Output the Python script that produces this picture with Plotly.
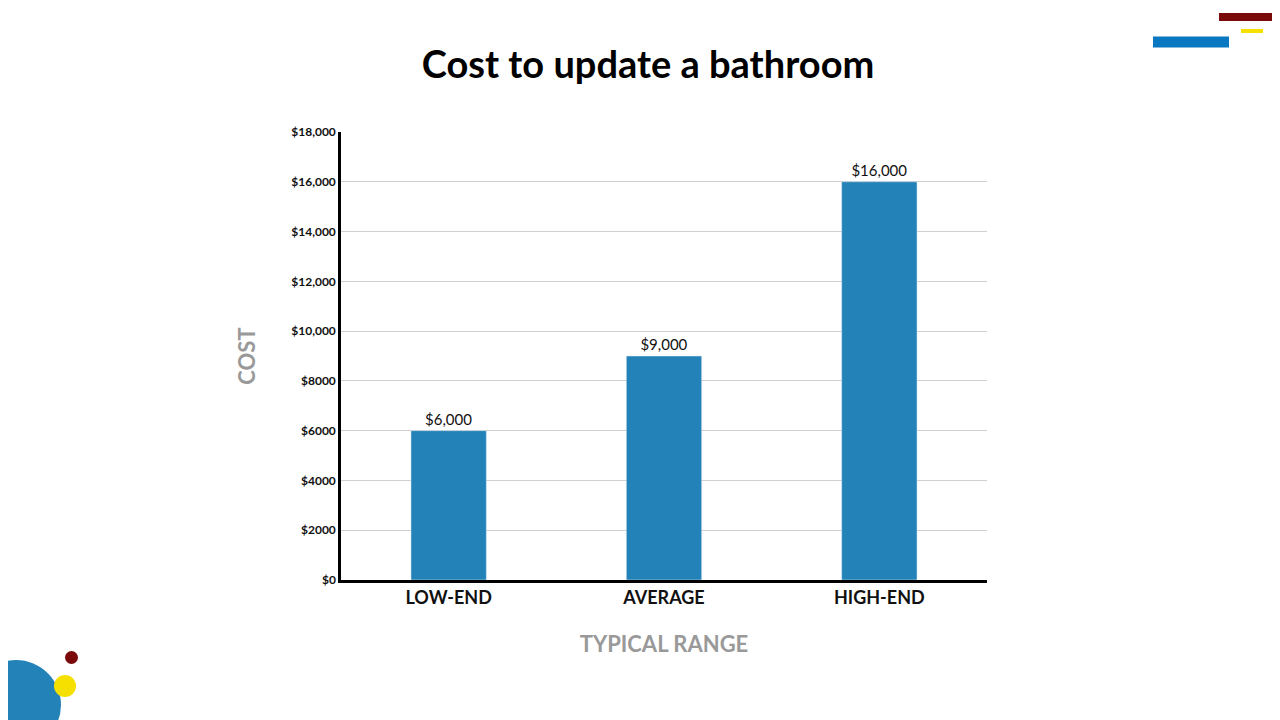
import plotly.graph_objects as go

categories = ["LOW-END", "AVERAGE", "HIGH-END"]
values = [6000, 9000, 16000]
labels = ["$6,000", "$9,000", "$16,000"]
tick_vals = [0, 2000, 4000, 6000, 8000, 10000, 12000, 14000, 16000, 18000]
tick_text = ["$0", "$2000", "$4000", "$6000", "$8000", "$10,000", "$12,000", "$14,000", "$16,000", "$18,000"]

fig = go.Figure(go.Bar(x=categories, y=values, text=labels, textposition="outside",
                       textfont=dict(family="Lato", size=15, color="#111"),
                       marker_color="#2383b8", width=0.35, cliponaxis=False))
fig.update_layout(
    width=1280, height=720, plot_bgcolor="white", paper_bgcolor="white",
    margin=dict(l=333, r=301, t=124, b=148),
    title=dict(text="<b>Cost to update a bathroom</b>", x=0.5, xanchor="center", y=0.94,
               font=dict(family="Lato", size=38, color="#000")),
    showlegend=False,
)
fig.update_yaxes(range=[0, 18000], tickvals=tick_vals, ticktext=tick_text,
                 tickfont=dict(family="Lato", size=12, color="#111", weight="bold"),
                 gridcolor="#cfcfcf", showline=True, linecolor="#000", linewidth=2.5,
                 title=dict(text="<b>COST</b>", font=dict(family="Lato", size=22, color="#999"), standoff=30))
fig.update_xaxes(showline=True, linecolor="#000", linewidth=2.5,
                 tickfont=dict(family="Lato", size=18, color="#111", weight="bold"),
                 title=dict(text="<b>TYPICAL RANGE</b>", font=dict(family="Lato", size=22, color="#999"), standoff=30))
# decorations
fig.add_shape(type="line", xref="paper", yref="paper", x0=(1218-340)/646, x1=(1275-340)/646,
              y0=(580-17)/448, y1=(580-17)/448, line=dict(color="#7a0a0a", width=8))
fig.add_shape(type="line", xref="paper", yref="paper", x0=(1240-340)/646, x1=(1262-340)/646,
              y0=(580-31)/448, y1=(580-31)/448, line=dict(color="#f5e000", width=4))
fig.add_shape(type="line", xref="paper", yref="paper", x0=(1152-340)/646, x1=(1228-340)/646,
              y0=(580-42)/448, y1=(580-42)/448, line=dict(color="#0a78c0", width=11))
fig.add_shape(type="circle", xref="paper", yref="paper", x0=(-30-340)/646, x1=(60-340)/646,
              y0=(580-750)/448, y1=(580-660)/448, fillcolor="#2383b8", line_width=0)
fig.add_shape(type="circle", xref="paper", yref="paper", x0=(53-340)/646, x1=(75-340)/646,
              y0=(580-697)/448, y1=(580-675)/448, fillcolor="#f5e000", line_width=0)
fig.add_shape(type="circle", xref="paper", yref="paper", x0=(64-340)/646, x1=(77-340)/646,
              y0=(580-664)/448, y1=(580-651)/448, fillcolor="#7a0a0a", line_width=0)
fig.write_html("out.html")
